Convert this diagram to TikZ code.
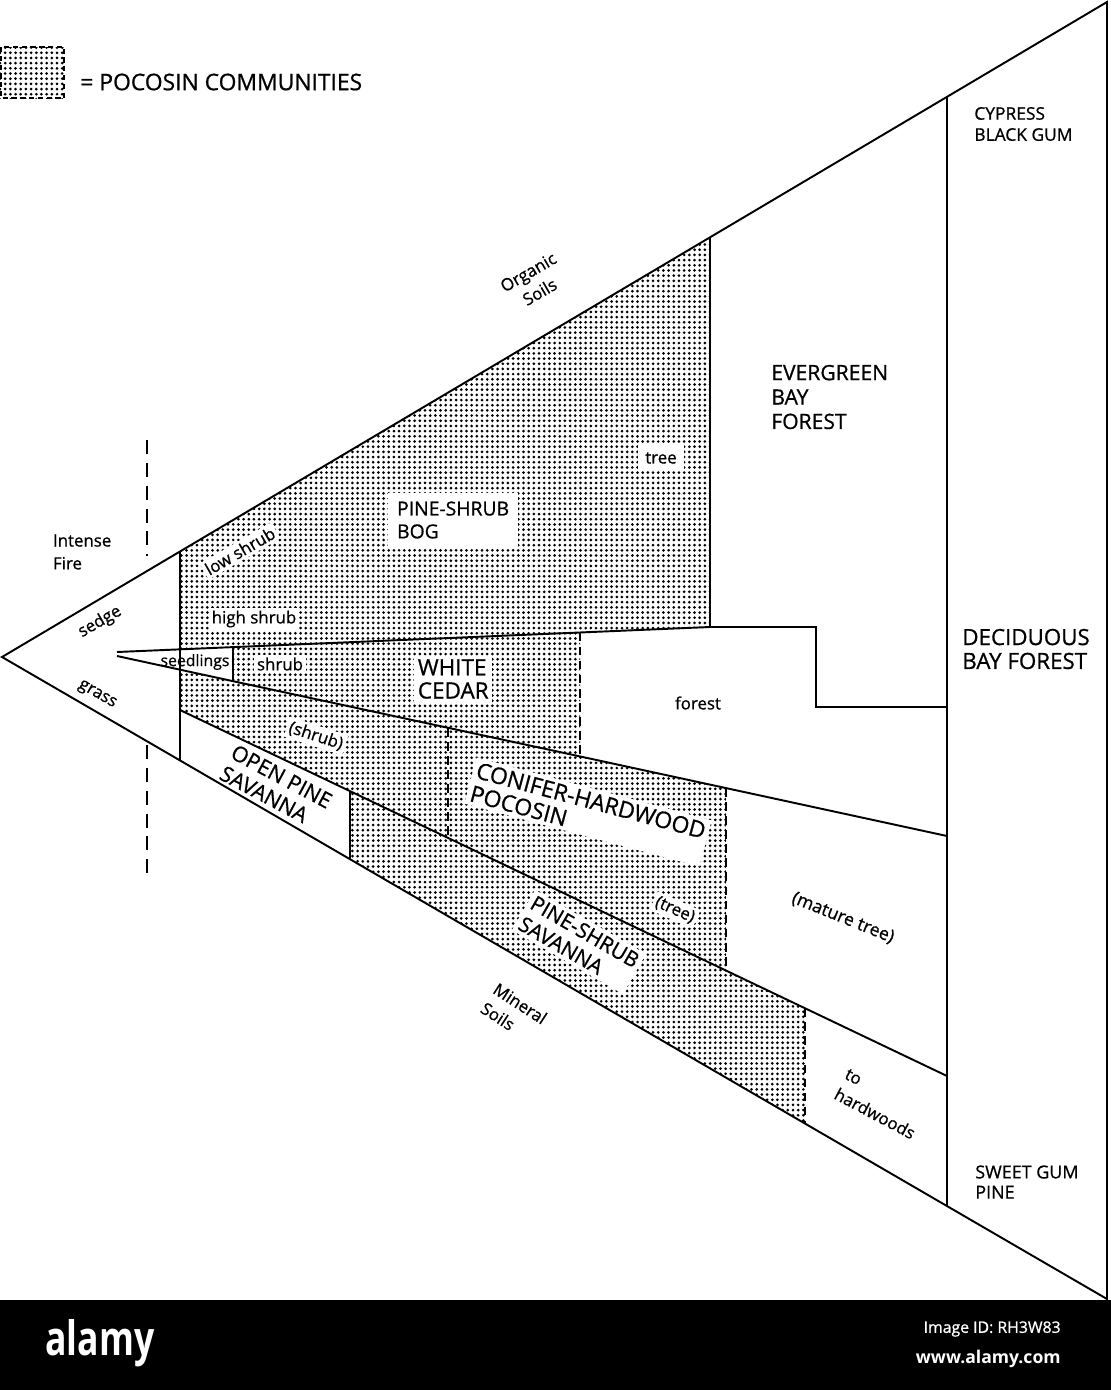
\documentclass[tikz,border=0pt]{standalone}
\usepackage{fontspec}
\setmainfont{Open Sans}[UprightFeatures={FakeBold=0.8}]
\usepackage{tikz}
\usetikzlibrary{patterns.meta}
\tikzset{
  edge/.style={line width=1.1pt,line join=miter},
  dashv/.style={line width=1.1pt,dash pattern=on 5pt off 3pt},
  longdash/.style={line width=1pt,dash pattern=on 8pt off 5pt},
  stip/.style={pattern={Dots[distance=2.95pt,radius=0.85pt]}},
  small/.style={font=\fontsize{9.6}{13}\selectfont,inner sep=1.5pt},
  smallw/.style={small,fill=white},
  caps/.style={font=\fontsize{12.2}{13.6}\selectfont,align=left,inner sep=2pt},
  capsw/.style={caps,fill=white},
  big/.style={font=\fontsize{12}{13.9}\selectfont,align=left,inner sep=0pt},
  wm/.style={text=white,inner sep=0pt},
}

\begin{document}
\begin{tikzpicture}[x=0.02cm,y=-0.02cm]
  \useasboundingbox (0,0) rectangle (1111,1390);
  \fill[white] (0,0) rectangle (1111,1390);
  % legend
  \path[stip] (0,47) rectangle (64,98);
  \draw[densely dashed,line width=0.7pt] (1,47) rectangle (64,98);
  \node[font=\fontsize{13}{14}\selectfont,anchor=west,inner sep=0pt] (legend) at (80,82) {= POCOSIN COMMUNITIES};
  % pocosin communities
  \path[stip] (180,551.5) -- (710,237.3) -- (710,627) -- (180,649.3) -- cycle;
  \path[stip] (233,647.1) -- (580,632.5) -- (580,756.4) -- (233,681.2) -- cycle;
  \path[stip] (180,669.7) -- (726,788.1) -- (726,970.5) -- (180,710) -- cycle;
  \path[stip] (350,791.1) -- (805,1008.3) -- (805,1123.4) -- (350,859.1) -- cycle;
  % labels
  \node[small,align=left,anchor=west] (fire) at (50,552) {Intense\\Fire};
  \node[small,rotate=30] (sedge) at (100,622) {sedge};
  \node[small,rotate=-30] (grass) at (97,695) {grass};
  \node[smallw,rotate=30] (lowshrub) at (240,551) {low shrub};
  \node[smallw] (highshrub) at (254,619) {high shrub};
  \node[small,inner sep=0.5pt,font=\fontsize{9}{10}\selectfont] (seedlings) at (195,662) {seedlings};
  \node[smallw] (shrub) at (280,664) {shrub};
  \node[capsw,anchor=west,inner sep=5pt,font=\fontsize{11}{13}\selectfont] (bog) at (388,520) {PINE-SHRUB\\BOG};
  \node[smallw,inner sep=4pt] (tree) at (661,458) {tree};
  \node[small,rotate=30,align=center] (organic) at (534,282) {Organic\\Soils};
  \node[capsw,anchor=west,font=\fontsize{12.8}{13.2}\selectfont] (cedar) at (414,679) {WHITE\\CEDAR};
  \node[small] (forest) at (698,703) {forest};
  \node[smallw,rotate=-18] (shrubp) at (316,736) {(shrub)};
  \node[caps,rotate=-28] (openpine) at (276,787) {OPEN PINE\\SAVANNA};
  \node[capsw,rotate=-15,font=\fontsize{13}{13.6}\selectfont] (conifer) at (588,812) {CONIFER-HARDWOOD\\POCOSIN};
  \node[smallw,rotate=-24] (treep) at (675,910) {(tree)};
  \node[capsw,rotate=-30,font=\fontsize{11.9}{13.6}\selectfont] (psavanna) at (579,942) {PINE-SHRUB\\SAVANNA};
  \node[small,rotate=-33,align=left] (mineral) at (514,1013) {Mineral\\Soils};
  \node[small,rotate=-22,font=\fontsize{10.1}{12}\selectfont] (mature) at (843,918) {(mature tree)};
  \node[small,rotate=-28,align=left] (hardwoods) at (880,1104) {to\\hardwoods};
  \node[big,anchor=west] (evergreen) at (771,397) {EVERGREEN\\BAY\\FOREST};
  \node[big,anchor=west,font=\fontsize{12.7}{13.6}\selectfont] (deciduous) at (962,649) {DECIDUOUS\\BAY FOREST};
  \node[big,anchor=west,font=\fontsize{9.9}{12}\selectfont] (cypress) at (974,124) {CYPRESS\\BLACK GUM};
  \node[big,anchor=west,font=\fontsize{10.2}{11.5}\selectfont] (sweetgum) at (975,1182) {SWEET GUM\\PINE};
  % outline
  \coordinate (apex) at (2,657);
  \coordinate (top) at (1107,2);
  \coordinate (bot) at (1107,1299);
  \draw[edge] (top) -- (apex) -- (bot) -- cycle;
  \draw[edge] (180,551.5) -- (180,760.4);
  \draw[edge] (710,237.3) -- (710,627);
  \draw[edge] (947,96.8) -- (947,1205.9);
  \draw[edge] (117,652) -- (710,627) -- (816,627) -- (816,707) -- (947,707);
  \draw[edge] (117,656) -- (947,836);
  \draw[edge] (233,647.1) -- (233,681.2);
  \draw[edge] (180,710) -- (947,1076);
  \draw[edge] (350,791.1) -- (350,859.1);
  \foreach \x/\ya/\yb in {580/632.5/756.4, 448/727.8/837.9, 726/788.1/970.5, 805/1008.3/1123.4}{
    \draw[dashv] (\x,\ya) -- (\x,\yb);
  }
  \draw[longdash] (147,440) -- (147,556);
  \draw[longdash] (147,745) -- (147,882);
  % stock banner
  \fill[black] (0,1300) rectangle (1111,1390);
  \node[wm,font=\bfseries\fontsize{27}{27}\selectfont,xscale=0.75] (logo) at (100,1343) {alamy};
  \node[wm,anchor=east,font=\fontsize{9}{10}\selectfont] (imageid) at (1061,1329) {Image ID: RH3W83};
  \node[wm,anchor=east,font=\bfseries\fontsize{10}{11}\selectfont] (url) at (1061,1359) {www.alamy.com};
\end{tikzpicture}
\end{document}
